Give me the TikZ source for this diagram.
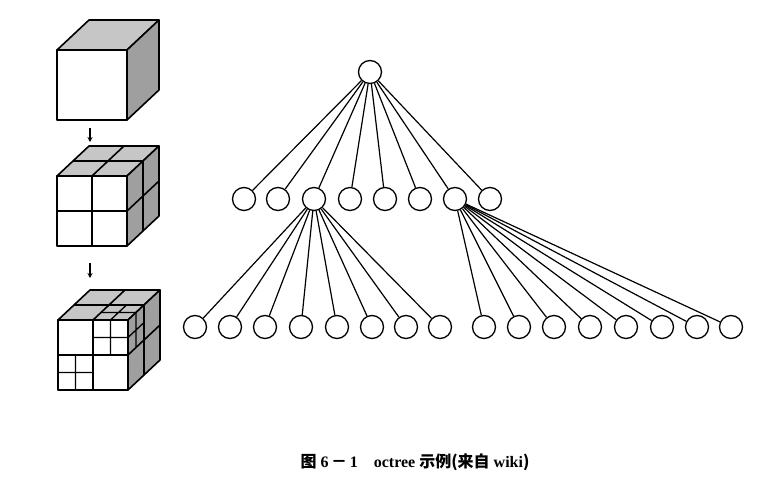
\documentclass[tikz,border=0pt]{standalone}
\usepackage{fontspec}
\setmainfont{Liberation Serif}
\newfontfamily\cjk{Noto Sans CJK SC}
\usetikzlibrary{arrows.meta}
\begin{document}
\begin{tikzpicture}[x=1pt,y=-1pt,line join=round,
  nd/.style={circle,draw,line width=1.3pt,minimum size=23pt,inner sep=0pt},
  ed/.style={line width=1.2pt},
  cl/.style={line width=1.6pt},
  fine/.style={line width=1.3pt}]
\useasboundingbox (0,0) rectangle (777,492);
\newcommand\basecube[2]{%
 \begin{scope}[shift={(#1,#2)}]
 \filldraw[cl,fill=white] (0,0) rectangle (70,70);
 \filldraw[cl,fill=gray!45] (0,0)--(70,0)--(102,-30)--(32,-30)--cycle;
 \filldraw[cl,fill=gray!75] (70,0)--(102,-30)--(102,40)--(70,70)--cycle;
 \end{scope}}
\newcommand\halves[2]{%
 \begin{scope}[shift={(#1,#2)}]
 \draw[cl] (35,0)--(35,70) (0,35)--(70,35) (35,0)--(67,-30) (16,-15)--(86,-15)
  (86,-15)--(86,55) (70,35)--(102,5);
 \end{scope}}
\basecube{57}{50}
\basecube{57}{176}\halves{57}{176}
\basecube{58}{320}\halves{58}{320}
\begin{scope}[shift={(58,320)}]
 \draw[fine] (52.5,0)--(52.5,35) (35,17.5)--(70,17.5)
  (17.5,35)--(17.5,70) (0,52.5)--(35,52.5)
  (52.5,0)--(68.5,-15) (43,-7.5)--(78,-7.5)
  (78,-7.5)--(78,27.5) (70,17.5)--(86,2.5);
\end{scope}
\coordinate (a1s) at (90,128); \coordinate (a1e) at (90,142);
\coordinate (a2s) at (90,263); \coordinate (a2e) at (90,278);
\draw[line width=1.2pt,-{Stealth[length=5pt,width=5pt]}] (a1s)--(a1e);
\draw[line width=1.2pt,-{Stealth[length=5pt,width=5pt]}] (a2s)--(a2e);
\node[nd] (r) at (370,72) {};
\foreach \x [count=\i] in {244,278,314,350,385,420,455,490}
  {\node[nd] (m\i) at (\x,199) {}; \draw[ed] (r)--(m\i);}
\foreach \x [count=\i] in {195,230,265,301,337,372,406,440}
  {\node[nd] (l\i) at (\x,327) {}; \draw[ed] (m3)--(l\i);}
\foreach \x [count=\i] in {484,519,554,590,626,662,697,731}
  {\node[nd] (q\i) at (\x,327) {}; \draw[ed] (m7)--(q\i);}
\node[font=\bfseries\fontsize{16}{18}\selectfont] (cap) at (415,462)
 {{\cjk 图} 6\,{\cjk －}\,1\quad octree {\cjk 示例(来自} wiki{\cjk )}};
\end{tikzpicture}
\end{document}
